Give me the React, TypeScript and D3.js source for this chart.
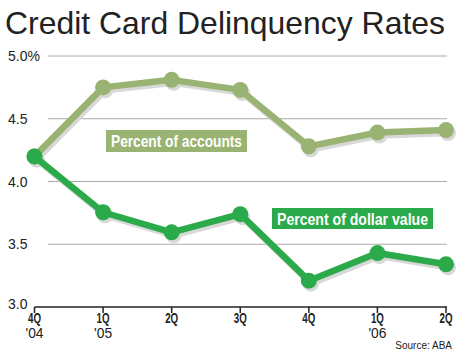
import React from "react";
import * as d3 from "d3";

const quarters = ["4Q", "1Q", "2Q", "3Q", "4Q", "1Q", "2Q"];
const years = ["'04", "'05", "", "", "", "'06", ""];
const accounts = [4.2, 4.75, 4.81, 4.73, 4.28, 4.39, 4.41];
const dollarValue = [4.2, 3.755, 3.595, 3.74, 3.21, 3.43, 3.34];
const yTicks = [3.0, 3.5, 4.0, 4.5, 5.0];

const W = 457;
const H = 360;
const ACC = "#99b373";
const DOL = "#2aaa4a";

export default function App() {
  const idx = quarters.map((_, i) => i);
  const x = d3.scaleLinear().domain([0, quarters.length - 1]).range([34.5, 446]);
  const y = d3.scaleLinear().domain([3, 5]).range([307, 56]);
  const line = d3
    .line<number>()
    .x((_, i) => x(i))
    .y((d) => y(d));

  const series = [
    { data: accounts, color: ACC },
    { data: dollarValue, color: DOL },
  ];

  return (
    <svg
      width={W}
      height={H}
      style={{ position: "absolute", left: 0, top: 0, background: "#fff" }}
      fontFamily="'Liberation Sans', Arial, sans-serif"
    >
      <text x={5} y={34} fontSize={32} fill="#222" textLength={440} lengthAdjust="spacingAndGlyphs">
        Credit Card Delinquency Rates
      </text>

      {yTicks.map((t) =>
        t > 3 ? (
          <line key={"g" + t} x1={48} x2={447} y1={y(t)} y2={y(t)} stroke="#aaa" strokeWidth={1} />
        ) : null
      )}
      {yTicks.map((t) => (
        <text
          key={"yl" + t}
          x={8}
          y={t === 3 ? y(t) - 3 : y(t)}
          dy="0.36em"
          fontSize={14}
          fill="#222"
        >
          {t === 5 ? "5.0%" : d3.format(".1f")(t)}
        </text>
      ))}

      <line x1={x(0)} x2={447} y1={307} y2={307} stroke="#222" strokeWidth={1.5} />
      {idx.map((i) => (
        <line key={"t" + i} x1={x(i)} x2={x(i)} y1={307} y2={313} stroke="#222" strokeWidth={1.5} />
      ))}
      {idx.map((i) => (
        <g key={"xl" + i} fontWeight="bold" fontSize={14} fill="#222" textAnchor="middle">
          <text x={x(i)} y={323} textLength={13} lengthAdjust="spacingAndGlyphs">{quarters[i]}</text>
          {years[i] ? (
            <text x={x(i)} y={338} fontWeight="normal" textLength={18} lengthAdjust="spacingAndGlyphs">
              {years[i]}
            </text>
          ) : null}
        </g>
      ))}
      <text x={452} y={349} fontSize={10} textAnchor="end" fill="#222">
        Source: ABA
      </text>

      {/* shadows */}
      {series.map((s, k) => (
        <g key={"sh" + k} transform="translate(2,3)" opacity={0.9}>
          <path d={line(s.data) || ""} fill="none" stroke="#d4d4d4" strokeWidth={6.5} strokeLinejoin="round" />
          {s.data.map((d, i) => (
            <circle key={i} cx={x(i)} cy={y(d)} r={8} fill="#d4d4d4" />
          ))}
        </g>
      ))}
      {series.map((s, k) => (
        <g key={"s" + k}>
          <path d={line(s.data) || ""} fill="none" stroke={s.color} strokeWidth={6.5} strokeLinejoin="round" />
          {s.data.map((d, i) => (
            <circle key={i} cx={x(i)} cy={y(d)} r={8} fill={s.color} />
          ))}
        </g>
      ))}

      <rect x={106} y={130} width={141} height={22} fill={ACC} />
      <text x={111} y={147} fill="#fff" fontWeight="bold" fontSize={16.5} textLength={131} lengthAdjust="spacingAndGlyphs">
        Percent of accounts
      </text>
      <rect x={272} y={208} width={161} height={21} fill={DOL} />
      <text x={277} y={224.5} fill="#fff" fontWeight="bold" fontSize={16.5} textLength={151} lengthAdjust="spacingAndGlyphs">
        Percent of dollar value
      </text>
    </svg>
  );
}
